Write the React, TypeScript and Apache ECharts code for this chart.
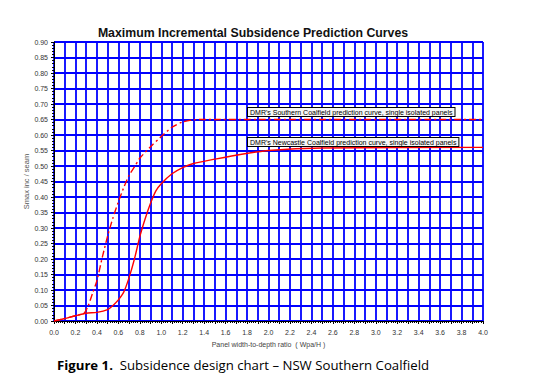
import React, { useEffect, useRef } from "react";
import * as echarts from "echarts";

const southernX = [0, 0.1, 0.2, 0.28, 0.32, 0.36, 0.4, 0.45, 0.5, 0.55, 0.6, 0.65, 0.7, 0.75, 0.8, 0.9, 1.0, 1.1, 1.2, 1.3, 1.4, 4.0];
const southernY = [0, 0.008, 0.017, 0.025, 0.05, 0.09, 0.13, 0.205, 0.274, 0.333, 0.384, 0.43, 0.47, 0.497, 0.525, 0.562, 0.595, 0.625, 0.642, 0.649, 0.65, 0.65];

const newcastleX = [0, 0.1, 0.2, 0.3, 0.4, 0.5, 0.55, 0.6, 0.65, 0.7, 0.75, 0.8, 0.85, 0.9, 0.95, 1.0, 1.1, 1.2, 1.3, 1.5, 1.75, 2.0, 2.5, 4.0];
const newcastleY = [0, 0.008, 0.017, 0.025, 0.028, 0.037, 0.05, 0.068, 0.093, 0.14, 0.2, 0.272, 0.33, 0.38, 0.42, 0.443, 0.475, 0.495, 0.508, 0.522, 0.538, 0.55, 0.558, 0.56];

const seriesNames = [
  "DMR's Southern Coalfield prediction curve, single isolated panels",
  "DMR's Newcastle Coalfield prediction curve, single isolated panels",
];

const titleText = "Maximum Incremental Subsidence Prediction Curves";
const xAxisName = "Panel width-to-depth ratio  ( Wpa/H )";
const yAxisName = "Smax inc / seam";

export default function App() {
  const ref = useRef<HTMLDivElement>(null);
  useEffect(() => {
    if (!ref.current) return;
    const chart = echarts.init(ref.current, null, { renderer: "svg" });
    const font = "Liberation Sans";
    chart.setOption({
      animation: false,
      backgroundColor: "#ffffff",
      title: {
        text: titleText,
        left: 248,
        textAlign: "center",
        top: 22,
        textStyle: { fontFamily: font, fontSize: 12.3, fontWeight: "bold", color: "#111" },
      },
      grid: { left: 54, top: 42, width: 429, height: 279 },
      xAxis: {
        type: "value",
        min: 0,
        max: 4,
        interval: 0.1,
        name: xAxisName,
        nameLocation: "middle",
        nameGap: 20,
        nameMoveOverlap: false,
        nameTextStyle: { fontFamily: font, fontSize: 7, color: "#444" },
        axisLine: { show: true, lineStyle: { color: "#000", width: 1 } },
        axisTick: { show: true, length: 3, lineStyle: { color: "#000" } },
        minorTick: { show: true, splitNumber: 5, length: 2, lineStyle: { color: "#000" } },
        axisLabel: {
          fontFamily: font,
          fontSize: 7,
          color: "#333",
          margin: 8,
          formatter: (v: number) => (Math.round(v * 10) % 2 === 0 ? v.toFixed(1) : ""),
        },
        splitLine: { show: true, lineStyle: { color: "#0000ff", width: 1.8 } },
      },
      yAxis: {
        type: "value",
        min: 0,
        max: 0.9,
        interval: 0.05,
        name: yAxisName,
        nameLocation: "middle",
        nameGap: 24,
        nameMoveOverlap: false,
        nameTextStyle: { fontFamily: font, fontSize: 7.5, color: "#555" },
        axisLine: { show: true, lineStyle: { color: "#000", width: 1 } },
        axisTick: { show: true, length: 3, lineStyle: { color: "#000" } },
        minorTick: { show: true, splitNumber: 5, length: 2, lineStyle: { color: "#000" } },
        axisLabel: {
          fontFamily: font,
          fontSize: 7,
          color: "#333",
          margin: 6,
          formatter: (v: number) => v.toFixed(2),
        },
        splitLine: { show: true, lineStyle: { color: "#0000ff", width: 1.8 } },
      },
      series: [
        {
          name: seriesNames[0],
          type: "line",
          showSymbol: false,
          smooth: 0.25,
          data: southernX.map((x, i) => [x, southernY[i]]),
          lineStyle: { color: "#ff0000", width: 1.4, type: [7, 3, 2, 3] },
          z: 5,
        },
        {
          name: seriesNames[1],
          type: "line",
          showSymbol: false,
          smooth: 0.25,
          data: newcastleX.map((x, i) => [x, newcastleY[i]]),
          lineStyle: { color: "#ff0000", width: 1.4 },
          z: 5,
        },
      ],
      graphic: [
        {
          type: "text",
          left: 247,
          top: 107,
          z: 10,
          style: {
            text: seriesNames[0],
            fontFamily: font,
            fontSize: 7,
            fill: "#000",
            backgroundColor: "#f6f6f6",
            borderColor: "#000",
            borderWidth: 1,
            padding: [1, 2, 0, 2],
          },
        },
        {
          type: "text",
          left: 247,
          top: 137,
          z: 10,
          style: {
            text: seriesNames[1],
            fontFamily: font,
            fontSize: 7,
            fill: "#000",
            backgroundColor: "#f6f6f6",
            borderColor: "#000",
            borderWidth: 1,
            padding: [1, 2, 0, 2],
          },
        },
        {
          type: "text",
          left: 57,
          top: 358,
          style: {
            text: "{b|Figure 1.}  Subsidence design chart – NSW Southern Coalfield",
            fontFamily: "Open Sans",
            fontSize: 13.2,
            fill: "#000",
            rich: {
              b: { fontFamily: "Open Sans", fontSize: 13.2, fontWeight: "bold", fill: "#000" },
            },
          },
        },
      ],
    });
    return () => chart.dispose();
  }, []);
  return (
    <div
      ref={ref}
      style={{ position: "fixed", left: 0, top: 0, width: 549, height: 384, background: "#fff" }}
    />
  );
}
